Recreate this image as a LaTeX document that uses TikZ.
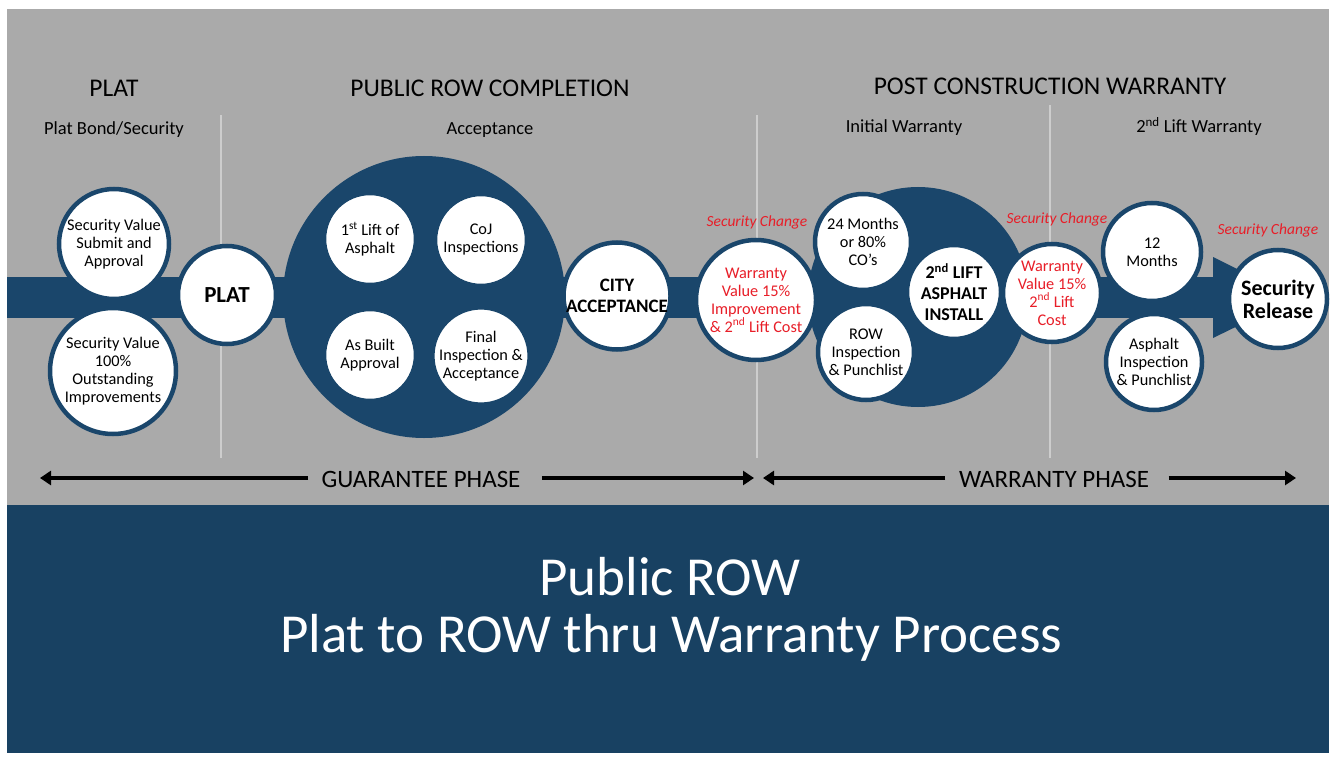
\documentclass[tikz,border=0pt]{standalone}
\usepackage{fontspec}
\setmainfont{Carlito}
\usetikzlibrary{arrows.meta}
\definecolor{bggray}{RGB}{170,170,170}
\definecolor{navy}{RGB}{26,70,107}
\definecolor{panel}{RGB}{24,65,98}
\definecolor{warnred}{RGB}{232,30,40}
\definecolor{sepline}{RGB}{205,205,205}
\tikzset{
  pc/.style={circle, draw=navy, line width=4.5pt, fill=white, inner sep=0pt, align=center, text=black, font=\fontsize{16.3}{18}\selectfont},
  redtxt/.style={text=warnred},
  boldtxt/.style 2 args={font=\bfseries\fontsize{#1}{#2}\selectfont},
  hdr/.style={anchor=base, font=\fontsize{25.5}{28}\selectfont},
  subhdr/.style={anchor=base, font=\fontsize{18.5}{22}\selectfont},
  chg/.style={text=warnred, font=\itshape\fontsize{15.5}{18}\selectfont},
  phase/.style={line width=4.5pt, -{Triangle[length=11pt,width=14pt]}},
  phasetxt/.style={anchor=base, font=\fontsize{25}{28}\selectfont},
  sep/.style={draw=sepline, line width=1.8pt},
}
\begin{document}
\begin{tikzpicture}[x=1pt,y=-1pt]
\useasboundingbox (0,0) rectangle (1337,759);
\fill[white] (0,0) rectangle (1337,759);
\fill[bggray] (7,9) rectangle (1329,505);
\fill[panel] (7,505) rectangle (1329,753);

% separators
\draw[sep] (221,115) -- (221,458);
\draw[sep] (757,115) -- (757,458);
\draw[sep] (1050,105) -- (1050,458);

% headers
\node[hdr] (hplat) at (114,97) {PLAT};
\node[hdr] (hrow) at (490,97) {PUBLIC ROW COMPLETION};
\node[hdr] (hpost) at (1050,95) {POST CONSTRUCTION WARRANTY};
\node[subhdr] (splat) at (114,135) {Plat Bond/Security};
\node[subhdr] (sacc) at (490,135) {Acceptance};
\node[subhdr] (sinit) at (904,133) {Initial Warranty};
\node[subhdr] (slift) at (1199,133) {2\textsuperscript{nd} Lift Warranty};

% main bar and arrow head
\fill[navy] (7,277) rectangle (1214,318);
\fill[navy] (1213,257) -- (1295,298) -- (1213,338) -- cycle;

% big group circles
\fill[navy] (424,297) circle[radius=141];
\fill[navy] (918,297) circle[radius=110];

% circles
\node[pc, minimum size=110pt] (sv1) at (114,244) {Security Value\\Submit and\\Approval};
\node[pc, minimum size=126pt] (sv2) at (113,371) {Security Value\\100\%\\Outstanding\\Improvements};
\node[pc, minimum size=98pt, boldtxt={23}{25}] (plat) at (227,295) {PLAT};
\node[pc, minimum size=92pt] (lift1) at (370,239) {1\textsuperscript{st} Lift of\\Asphalt};
\node[pc, minimum size=92pt] (coj) at (481,240) {CoJ\\Inspections};
\node[pc, minimum size=92pt] (asb) at (370,355) {As Built\\Approval};
\node[pc, minimum size=92pt] (fin) at (481,356) {Final\\Inspection \&\\Acceptance};
\node[pc, minimum size=104pt, boldtxt={19}{21}] (city) at (617,296) {CITY\\ACCEPTANCE};
\node[pc, minimum size=120pt, redtxt] (w1) at (756,300) {Warranty\\Value 15\%\\Improvement\\\& 2\textsuperscript{nd} Lift Cost};
\node[pc, minimum size=96pt] (m24) at (863,242) {24 Months\\or 80\%\\CO’s};
\node[pc, minimum size=96pt] (rowi) at (866,352) {ROW\\Inspection\\\& Punchlist};
\node[pc, minimum size=94pt, boldtxt={18}{21}] (lift2) at (954,292) {2\textsuperscript{nd} LIFT\\ASPHALT\\INSTALL};
\node[pc, minimum size=98pt, redtxt] (w2) at (1052,293) {Warranty\\Value 15\%\\2\textsuperscript{nd} Lift\\Cost};
\node[pc, minimum size=98pt] (m12) at (1152,252) {12\\Months};
\node[pc, minimum size=96pt] (ai) at (1154,362) {Asphalt\\Inspection\\\& Punchlist};
\node[pc, minimum size=98pt, boldtxt={22}{23}] (sr) at (1278,299) {Security\\Release};

% security change labels
\node[chg] (c1) at (757,222) {Security Change};
\node[chg] (c2) at (1057,219) {Security Change};
\node[chg] (c3) at (1268,230) {Security Change};

% phases
\node[phasetxt] (gp) at (421,487) {GUARANTEE PHASE};
\node[phasetxt] (wp) at (1054,487) {WARRANTY PHASE};
\coordinate (gl) at (40,478);
\coordinate (gr) at (754,478);
\coordinate (wl) at (763,478);
\coordinate (wr) at (1296,478);
\draw[phase] (gp.west |- gl) ++(-10,0) coordinate (gla) -- (gl);
\draw[phase] (gp.east |- gr) ++(18,0) coordinate (gra) -- (gr);
\draw[phase] (wp.west |- wl) ++(-10,0) coordinate (wla) -- (wl);
\draw[phase] (wp.east |- wr) ++(16,0) coordinate (wra) -- (wr);

% title
\node[anchor=base, text=white, font=\fontsize{55}{60}\selectfont] (t1) at (670,595) {Public ROW};
\node[anchor=base, text=white, font=\fontsize{55}{60}\selectfont] (t2) at (671,652) {Plat to ROW thru Warranty Process};
\end{tikzpicture}
\end{document}
